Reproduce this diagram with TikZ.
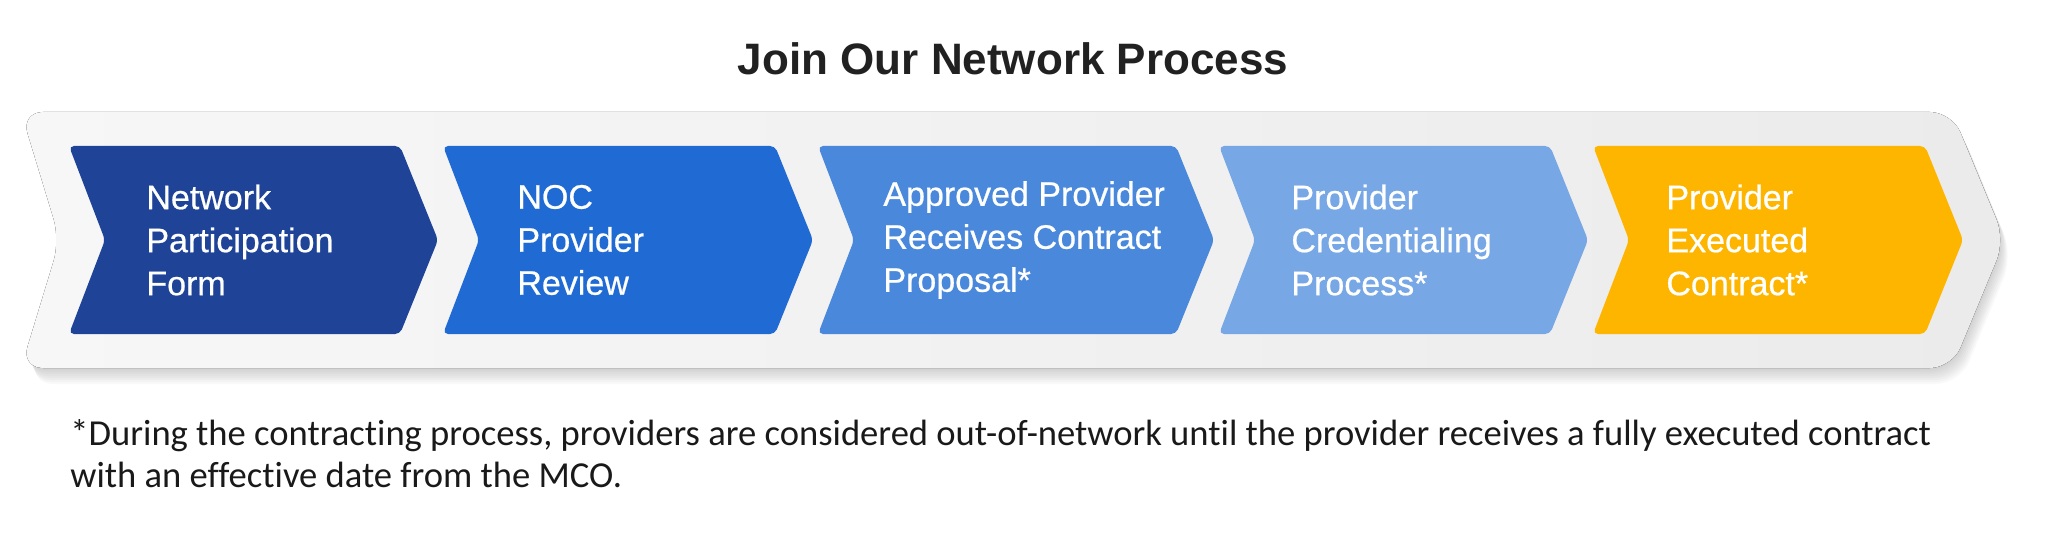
\documentclass[tikz,border=0pt]{standalone}
\usepackage{fontspec}
\setmainfont{Liberation Sans}
\newfontfamily\stepfont[FakeBold=0.6]{Liberation Sans}
\newfontfamily\notefont[Ligatures=NoCommon]{Carlito}
\usetikzlibrary{positioning}

\definecolor{stepone}{HTML}{1E4397}
\definecolor{steptwo}{HTML}{206BD3}
\definecolor{stepthree}{HTML}{4A88DB}
\definecolor{stepfour}{HTML}{77A7E5}
\definecolor{stepfive}{HTML}{FEB500}
\definecolor{bandleft}{HTML}{F7F7F7}
\definecolor{bandright}{HTML}{EBEBEB}

\begin{document}
\begin{tikzpicture}[x=0.5pt,y=-0.5pt,
    title/.style={font=\fontsize{22}{26}\selectfont\bfseries, text=black!87, inner sep=0pt},
    steptext/.style={font=\stepfont\fontsize{17}{21.5}\selectfont, text=white, align=left, anchor=west, inner sep=0pt},
    note/.style={font=\notefont\fontsize{18.3}{21}\selectfont, text=black!90, align=left, inner sep=0pt}]
  \useasboundingbox (0,0) rectangle (2048,534);

  \node[title, anchor=base] (title) at (1013,75) {Join Our Network Process};

  % soft shadow under the band
  \foreach \s in {1,...,8}
    \fill[black, opacity=0.022, rounded corners=12pt]
      (21+\s,112+2*\s) -- (1952+\s,112+2*\s) -- (2005+\s,240+2*\s) -- (1952+\s,368+2*\s) -- (21+\s,368+2*\s) -- (60+\s,240+2*\s) -- cycle;

  % band
  \fill[left color=bandleft, right color=bandright, rounded corners=11pt]
    (21,112) -- (1952,112) -- (2005,240) -- (1952,368) -- (21,368) -- (60,240) -- cycle;

  % steps
  \foreach \l/\r/\c/\n/\o/\t in {
      69/400/stepone/1/77/{Network\\Participation\\Form},
      443/775/steptwo/2/74/{NOC\\Provider\\Review},
      818/1176/stepthree/3/65/{Approved Provider\\Receives Contract\\Proposal*},
      1219/1550/stepfour/4/72/{Provider\\Credentialing\\Process*},
      1593/1925/stepfive/5/73/{Provider\\Executed\\Contract*}} {
    \fill[\c, rounded corners=2.5pt]
      (\l,146) -- (\r,146) -- (\r+38,240) -- (\r,334) -- (\l,334) -- (\l+36,240) -- cycle;
    \node[steptext] (step\n) at (\l+\o,240) {\t};
  }

  \node[note, anchor=north west] (note) at (70,419)
    {*During the contracting process, providers are considered out-of-network until the provider receives a fully executed contract\\
     with an effective date from the MCO.};
\end{tikzpicture}
\end{document}
